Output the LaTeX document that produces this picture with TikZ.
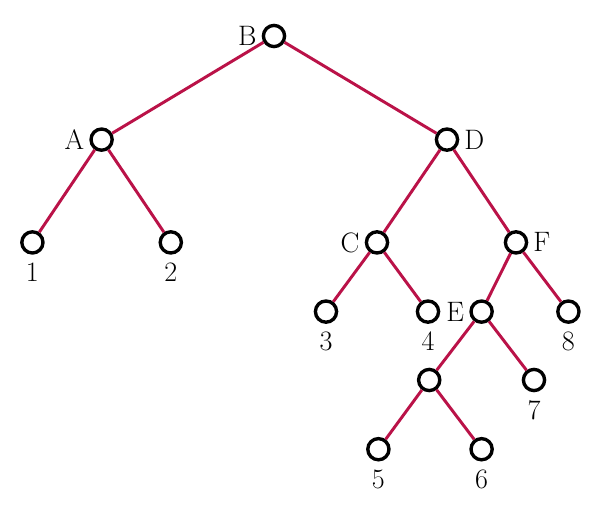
\documentclass[tikz,border=0pt]{standalone}
\usepackage{fontspec}
\usepackage{tikz}

\definecolor{edgered}{RGB}{186,18,72}

\begin{document}
\begin{tikzpicture}[
every edge/.style = {draw=edgered,line width=2.1pt},
   lbl/.style = {inner sep=3.5pt,font=\fontsize{20}{24}\selectfont},
  knot/.style = {circle, draw, line width=2.4pt, fill=white,
      minimum size=5.3mm, inner sep=0pt},
 vrtx/.style args = {#1/#2}{%
      knot, label={[lbl]#1:#2}},
  leaf/.style = {knot, label={[lbl,label distance=2pt]below:#1}}
                    ]
\useasboundingbox (0,0) rectangle (15,-12.775);
\node(B) [vrtx=left/B]  at (6.85,-0.9) {};
\node(A) [vrtx=left/A]  at (2.54,-3.49) {};
\node(D) [vrtx=right/D] at (11.175,-3.49) {};
\node(n1) [leaf=1] at (0.81,-6.06) {};
\node(n2) [leaf=2] at (4.27,-6.06) {};
\node(C) [vrtx=left/C]  at (9.425,-6.06) {};
\node(F) [vrtx=right/F] at (12.9,-6.06) {};
\node(n3) [leaf=3] at (8.15,-7.79) {};
\node(n4) [leaf=4] at (10.7,-7.79) {};
\node(E) [vrtx=left/E]  at (12.04,-7.79) {};
\node(n8) [leaf=8] at (14.21,-7.79) {};
\node(G) [knot]    at (10.73,-9.5) {};
\node(n7) [leaf=7] at (13.35,-9.5) {};
\node(n5) [leaf=5] at (9.46,-11.23) {};
\node(n6) [leaf=6] at (12.04,-11.23) {};
%
\path   (B) edge (A)
        (B) edge (D)
        (A) edge (n1)
        (A) edge (n2)
        (D) edge (C)
        (D) edge (F)
        (C) edge (n3)
        (C) edge (n4)
        (F) edge (E)
        (F) edge (n8)
        (E) edge (G)
        (E) edge (n7)
        (G) edge (n5)
        (G) edge (n6);
\end{tikzpicture}
\end{document}
